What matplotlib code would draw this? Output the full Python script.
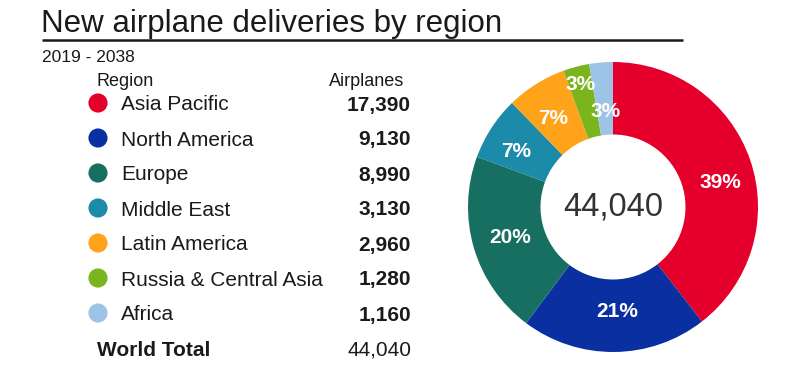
import matplotlib
matplotlib.use('Agg')
import matplotlib.pyplot as plt
import numpy as np

regions = ['Asia Pacific', 'North America', 'Europe', 'Middle East',
           'Latin America', 'Russia & Central Asia', 'Africa']
airplanes = [17390, 9130, 8990, 3130, 2960, 1280, 1160]
pct_labels = ['39%', '21%', '20%', '7%', '7%', '3%', '3%']
colors = ['#e4002b', '#0a2fa0', '#176f62', '#1c8baa', '#ffa31a', '#7ab51d', '#9dc3e6']
total = sum(airplanes)

plt.rcParams['font.family'] = ['Liberation Sans', 'DejaVu Sans']
ink = '#1a1a1a'

fig = plt.figure(figsize=(8, 3.73), dpi=100)

# overlay axes in pixel coords for the table part
ov = fig.add_axes([0, 0, 1, 1])
ov.set_xlim(0, 800)
ov.set_ylim(373, 0)
ov.axis('off')

ov.text(41, 32, 'New airplane deliveries by region', fontsize=22.5, color=ink, va='baseline')
ov.plot([42, 683], [40, 40], color=ink, lw=1.8, solid_capstyle='butt')
ov.text(42, 62, '2019 - 2038', fontsize=12.5, color=ink, va='baseline')
ov.text(97, 86, 'Region', fontsize=13, color=ink, va='baseline')
ov.text(404, 86, 'Airplanes', fontsize=13, color=ink, va='baseline', ha='right')

rows_y = 103 + 35 * np.arange(len(regions))
ov.scatter([98] * len(regions), rows_y, s=190, c=colors, edgecolors='none')
for y, name, n in zip(rows_y, regions, airplanes):
    ov.text(121, y + 7.5, name, fontsize=15, color=ink, va='baseline')
    ov.text(411, y + 7.5, f'{n:,}', fontsize=15, fontweight='bold', color=ink,
            va='baseline', ha='right')
ov.text(97, 355.5, 'World Total', fontsize=15, fontweight='bold', color=ink, va='baseline')
ov.text(411, 355.5, f'{total:,}', fontsize=15, color=ink, va='baseline', ha='right')

# donut
ax = fig.add_axes([(613 - 145) / 800, (373 - 352) / 373, 290 / 800, 290 / 373])
wedges, _ = ax.pie(airplanes, colors=colors, startangle=90, counterclock=False,
                   radius=1, wedgeprops=dict(width=0.5, edgecolor='none'))
ax.set_xlim(-1, 1)
ax.set_ylim(-1, 1)

label_r = [0.76, 0.72, 0.74, 0.77, 0.74, 0.87, 0.66]
label_shift = [-6, 2, 0, 3, 2, 0, 0]
for w, lab, r, sh in zip(wedges, pct_labels, label_r, label_shift):
    ang = np.deg2rad((w.theta1 + w.theta2) / 2 + sh)
    ax.text(r * np.cos(ang), r * np.sin(ang), lab, color='white', fontsize=15,
            fontweight='bold', ha='center', va='center')
ax.text(0, 0, f'{total:,}', fontsize=23.5, color='#333333', ha='center', va='center')

fig.savefig('out.png', dpi=100)
